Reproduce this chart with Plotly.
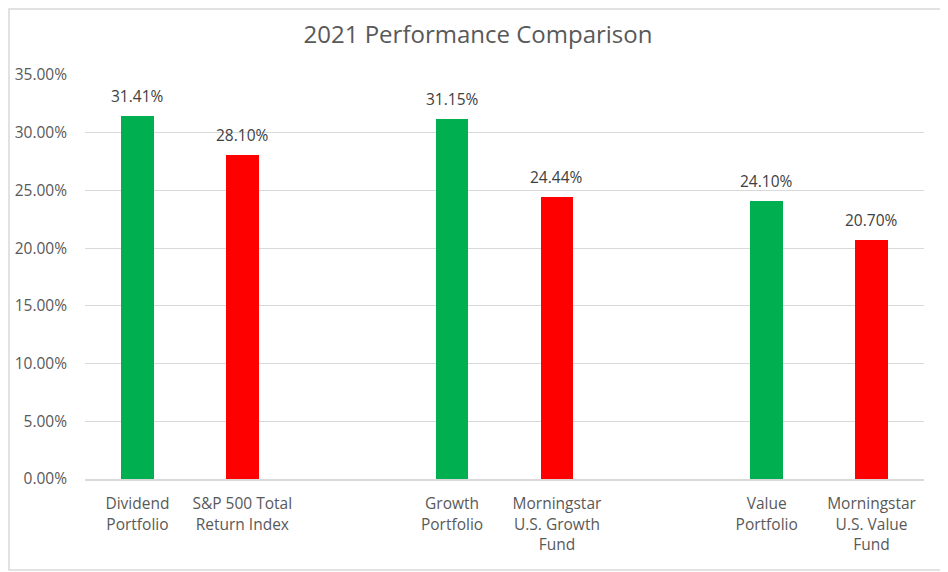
import plotly.graph_objects as go

categories = ["Dividend<br>Portfolio", "S&P 500 Total<br>Return Index", " ",
              "Growth<br>Portfolio", "Morningstar<br>U.S. Growth<br>Fund", "  ",
              "Value<br>Portfolio", "Morningstar<br>U.S. Value<br>Fund"]
values = [0.3141, 0.2810, None, 0.3115, 0.2444, None, 0.2410, 0.2070]
bar_colors = ["#00B050", "#FF0000", "#FFFFFF", "#00B050", "#FF0000", "#FFFFFF", "#00B050", "#FF0000"]
labels = ["31.41%", "28.10%", "", "31.15%", "24.44%", "", "24.10%", "20.70%"]

font_family = "Open Sans, Liberation Sans, sans-serif"
fs = 15.5

fig = go.Figure()
fig.add_trace(go.Bar(
    x=categories, y=values,
    marker=dict(color=bar_colors, line=dict(width=0)),
    width=0.31,
    hoverinfo="skip",
))

for c, v, lab in zip(categories, values, labels):
    if v is None:
        continue
    fig.add_annotation(x=c, y=v, text=lab, showarrow=False, yanchor="bottom",
                       yshift=7, font=dict(size=fs, color="#404040", family=font_family))

# page body has an 8px margin; figure is sized to fit the 948x572 window
W, H = 940, 564
l, r, t, b = 77, 24, 67, 93
pw, ph = W - l - r, H - t - b

fig.update_layout(
    width=W, height=H,
    margin=dict(l=l, r=r, t=t, b=b, autoexpand=False),
    paper_bgcolor="white", plot_bgcolor="white",
    showlegend=False,
    bargap=0,
    title=dict(text="2021 Performance Comparison", x=0.5, xanchor="center",
               y=1 - 27 / H, yanchor="middle",
               font=dict(size=24, color="#595959", family=font_family)),
    font=dict(family=font_family, color="#595959", size=fs),
)
fig.update_xaxes(type="category", categoryorder="array", categoryarray=categories,
                 range=[-0.5, 7.5], showgrid=False, showline=True, linecolor="#d9d9d9",
                 linewidth=1.5, ticks="", tickfont=dict(size=fs, color="#595959"),
                 tickangle=0, ticklabelstandoff=10, automargin=False, fixedrange=True)
fig.update_yaxes(range=[0, 0.35], dtick=0.05, tickformat=".2%", showgrid=True,
                 gridcolor="#d9d9d9", gridwidth=1.2, zeroline=False, showline=False,
                 tickfont=dict(size=fs, color="#595959"), ticklabelstandoff=17,
                 automargin=False, fixedrange=True)

fig.add_shape(type="rect", xref="paper", yref="paper",
              x0=-(l - 1) / pw, x1=1 + (r - 2) / pw,
              y0=-(b - 2) / ph, y1=1 + (t - 1) / ph,
              line=dict(color="#d9d9d9", width=1.5), layer="below")

fig.write_html("out.html")
